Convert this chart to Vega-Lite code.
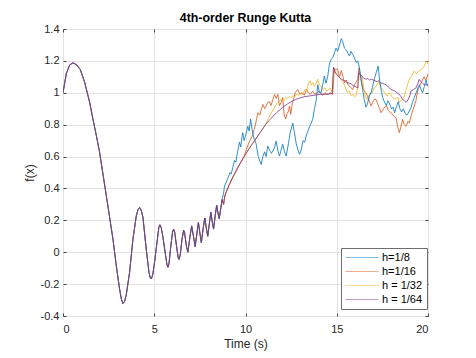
{
  "$schema": "https://vega.github.io/schema/vega-lite/v6.json",
  "width": 365,
  "height": 287,
  "autosize": {"type": "none"},
  "padding": {"left": 63, "top": 29, "right": 48, "bottom": 42},
  "background": "white",
  "title": {"text": "4th-order Runge Kutta", "font": "Liberation Sans", "fontSize": 12.4, "fontWeight": "bold", "color": "#000000", "offset": -1},
  "datasets": {
    "curves": [
      {"t":0,"a":1.0,"b":1.0,"c":1.0,"d":1.0},
      {"t":0.18,"a":1.12,"b":1.12,"c":1.12,"d":1.12},
      {"t":0.37,"a":1.175,"b":1.175,"c":1.175,"d":1.175},
      {"t":0.55,"a":1.188,"b":1.188,"c":1.188,"d":1.188},
      {"t":0.75,"a":1.175,"b":1.175,"c":1.175,"d":1.175},
      {"t":0.95,"a":1.145,"b":1.145,"c":1.145,"d":1.145},
      {"t":1.19,"a":1.065,"b":1.065,"c":1.065,"d":1.065},
      {"t":1.46,"a":0.94,"b":0.94,"c":0.94,"d":0.94},
      {"t":1.64,"a":0.835,"b":0.835,"c":0.835,"d":0.835},
      {"t":1.83,"a":0.73,"b":0.73,"c":0.73,"d":0.73},
      {"t":2.0,"a":0.63,"b":0.63,"c":0.63,"d":0.63},
      {"t":2.19,"a":0.49,"b":0.49,"c":0.49,"d":0.49},
      {"t":2.46,"a":0.29,"b":0.29,"c":0.29,"d":0.29},
      {"t":2.74,"a":0.08,"b":0.08,"c":0.08,"d":0.08},
      {"t":2.92,"a":-0.085,"b":-0.085,"c":-0.085,"d":-0.085},
      {"t":3.1,"a":-0.23,"b":-0.23,"c":-0.23,"d":-0.23},
      {"t":3.2,"a":-0.295,"b":-0.295,"c":-0.295,"d":-0.295},
      {"t":3.28,"a":-0.322,"b":-0.322,"c":-0.322,"d":-0.322},
      {"t":3.37,"a":-0.31,"b":-0.31,"c":-0.31,"d":-0.31},
      {"t":3.47,"a":-0.265,"b":-0.265,"c":-0.265,"d":-0.265},
      {"t":3.65,"a":-0.125,"b":-0.125,"c":-0.125,"d":-0.125},
      {"t":3.83,"a":0.08,"b":0.08,"c":0.08,"d":0.08},
      {"t":4.02,"a":0.23,"b":0.23,"c":0.23,"d":0.23},
      {"t":4.12,"a":0.27,"b":0.27,"c":0.27,"d":0.27},
      {"t":4.2,"a":0.28,"b":0.28,"c":0.28,"d":0.28},
      {"t":4.28,"a":0.265,"b":0.265,"c":0.265,"d":0.265},
      {"t":4.38,"a":0.22,"b":0.22,"c":0.22,"d":0.22},
      {"t":4.56,"a":0.02,"b":0.02,"c":0.02,"d":0.02},
      {"t":4.71,"a":-0.125,"b":-0.125,"c":-0.125,"d":-0.125},
      {"t":4.78,"a":-0.16,"b":-0.16,"c":-0.16,"d":-0.16},
      {"t":4.84,"a":-0.167,"b":-0.167,"c":-0.167,"d":-0.167},
      {"t":4.92,"a":-0.14,"b":-0.14,"c":-0.14,"d":-0.14},
      {"t":5.02,"a":-0.06,"b":-0.06,"c":-0.06,"d":-0.06},
      {"t":5.17,"a":0.08,"b":0.08,"c":0.08,"d":0.08},
      {"t":5.25,"a":0.155,"b":0.155,"c":0.155,"d":0.155},
      {"t":5.31,"a":0.172,"b":0.172,"c":0.172,"d":0.172},
      {"t":5.38,"a":0.155,"b":0.155,"c":0.155,"d":0.155},
      {"t":5.47,"a":0.1,"b":0.1,"c":0.1,"d":0.1},
      {"t":5.62,"a":-0.02,"b":-0.02,"c":-0.02,"d":-0.02},
      {"t":5.7,"a":-0.08,"b":-0.08,"c":-0.08,"d":-0.08},
      {"t":5.75,"a":-0.094,"b":-0.094,"c":-0.094,"d":-0.094},
      {"t":5.81,"a":-0.07,"b":-0.07,"c":-0.07,"d":-0.07},
      {"t":5.9,"a":0.03,"b":0.03,"c":0.03,"d":0.03},
      {"t":6.0,"a":0.125,"b":0.125,"c":0.125,"d":0.125},
      {"t":6.06,"a":0.145,"b":0.145,"c":0.145,"d":0.145},
      {"t":6.12,"a":0.125,"b":0.125,"c":0.125,"d":0.125},
      {"t":6.22,"a":0.04,"b":0.04,"c":0.04,"d":0.04},
      {"t":6.31,"a":-0.035,"b":-0.035,"c":-0.035,"d":-0.035},
      {"t":6.36,"a":-0.045,"b":-0.045,"c":-0.045,"d":-0.045},
      {"t":6.42,"a":-0.02,"b":-0.02,"c":-0.02,"d":-0.02},
      {"t":6.52,"a":0.08,"b":0.08,"c":0.08,"d":0.08},
      {"t":6.61,"a":0.138,"b":0.138,"c":0.138,"d":0.138},
      {"t":6.66,"a":0.125,"b":0.125,"c":0.125,"d":0.125},
      {"t":6.76,"a":0.04,"b":0.04,"c":0.04,"d":0.04},
      {"t":6.84,"a":0.0,"b":0.0,"c":0.0,"d":0.0},
      {"t":6.96,"a":0.1,"b":0.1,"c":0.1,"d":0.1},
      {"t":7.05,"a":0.165,"b":0.165,"c":0.165,"d":0.165},
      {"t":7.15,"a":0.1,"b":0.1,"c":0.1,"d":0.1},
      {"t":7.24,"a":0.035,"b":0.035,"c":0.035,"d":0.035},
      {"t":7.34,"a":0.12,"b":0.12,"c":0.12,"d":0.12},
      {"t":7.42,"a":0.186,"b":0.186,"c":0.186,"d":0.186},
      {"t":7.5,"a":0.12,"b":0.12,"c":0.12,"d":0.12},
      {"t":7.58,"a":0.06,"b":0.06,"c":0.06,"d":0.06},
      {"t":7.68,"a":0.15,"b":0.15,"c":0.15,"d":0.15},
      {"t":7.77,"a":0.215,"b":0.215,"c":0.215,"d":0.215},
      {"t":7.85,"a":0.155,"b":0.155,"c":0.155,"d":0.155},
      {"t":7.93,"a":0.1,"b":0.1,"c":0.1,"d":0.1},
      {"t":8.02,"a":0.18,"b":0.18,"c":0.18,"d":0.18},
      {"t":8.1,"a":0.25,"b":0.25,"c":0.25,"d":0.25},
      {"t":8.18,"a":0.19,"b":0.19,"c":0.19,"d":0.19},
      {"t":8.25,"a":0.145,"b":0.145,"c":0.145,"d":0.145},
      {"t":8.34,"a":0.23,"b":0.23,"c":0.23,"d":0.23},
      {"t":8.42,"a":0.295,"b":0.295,"c":0.295,"d":0.295},
      {"t":8.5,"a":0.24,"b":0.24,"c":0.24,"d":0.24},
      {"t":8.56,"a":0.21,"b":0.21,"c":0.21,"d":0.21},
      {"t":8.65,"a":0.28,"b":0.28,"c":0.28,"d":0.28},
      {"t":8.72,"a":0.33,"b":0.33,"c":0.33,"d":0.33},
      {"t":8.8,"b":0.3,"c":0.3,"d":0.3},
      {"t":8.87,"b":0.355,"c":0.355,"d":0.355},
      {"t":8.95,"b":0.38,"c":0.38,"d":0.38},
      {"t":9.1,"b":0.42,"c":0.42,"d":0.42},
      {"t":9.3,"b":0.47,"c":0.47,"d":0.47},
      {"t":9.6,"b":0.535,"c":0.535,"d":0.535},
      {"t":9.9,"b":0.595,"c":0.595,"d":0.595},
      {"t":10.2,"c":0.65,"d":0.65},
      {"t":10.5,"c":0.7,"d":0.7},
      {"t":10.8,"c":0.75,"d":0.75},
      {"t":11.1,"c":0.8,"d":0.8},
      {"t":11.4,"d":0.84},{"t":11.7,"d":0.875},{"t":12.0,"d":0.905},{"t":12.3,"d":0.93},{"t":12.6,"d":0.95},{"t":12.9,"d":0.965},{"t":13.2,"d":0.975},{"t":13.5,"d":0.98},{"t":13.8,"d":0.985},{"t":14.1,"d":0.99},{"t":14.4,"d":0.99},{"t":14.75,"d":0.995},
      {"t":14.82,"d":1.16},{"t":14.9,"d":1.13},{"t":15.0,"d":1.115},{"t":15.1,"d":1.1},{"t":15.2,"d":1.09},{"t":15.33,"d":1.08},{"t":15.45,"d":1.075},{"t":15.55,"d":1.065},{"t":15.7,"d":1.06},{"t":15.8,"d":1.055},{"t":15.9,"d":1.045},{"t":16.0,"d":1.04},{"t":16.15,"d":1.03},{"t":16.2,"d":1.125},{"t":16.3,"d":1.115},{"t":16.4,"d":1.1},{"t":16.5,"d":1.09},{"t":16.6,"d":1.085},{"t":16.7,"d":1.09},{"t":16.8,"d":1.08},{"t":16.9,"d":1.085},{"t":17.0,"d":1.08},{"t":17.1,"d":1.075},{"t":17.2,"d":1.07},{"t":17.3,"d":1.075},{"t":17.4,"d":1.06},{"t":17.5,"d":1.06},{"t":17.6,"d":1.055},{"t":17.7,"d":1.05},{"t":17.8,"d":1.04},{"t":17.9,"d":1.03},{"t":17.98,"d":1.02},{"t":18.1,"d":1.015},{"t":18.2,"d":1.01},{"t":18.3,"d":1.0},{"t":18.43,"d":0.99},{"t":18.52,"d":0.975},{"t":18.6,"d":0.96},{"t":18.7,"d":0.95},{"t":18.8,"d":0.94},{"t":18.9,"d":0.955},{"t":19.0,"d":0.98},{"t":19.07,"d":1.01},{"t":19.2,"d":1.02},{"t":19.34,"d":1.03},{"t":19.45,"d":1.06},{"t":19.52,"d":1.084},{"t":19.6,"d":1.07},{"t":19.7,"d":1.06},{"t":19.8,"d":1.05},{"t":19.89,"d":1.05},{"t":20.0,"d":1.05},
      {"t":8.8,"a":0.37},{"t":8.85,"a":0.415},{"t":8.95,"a":0.44},{"t":9.05,"a":0.47},{"t":9.15,"a":0.5},{"t":9.22,"a":0.49},{"t":9.3,"a":0.53},{"t":9.4,"a":0.575},{"t":9.47,"a":0.565},{"t":9.55,"a":0.62},{"t":9.67,"a":0.69},{"t":9.74,"a":0.66},{"t":9.8,"a":0.72},{"t":9.85,"a":0.75},{"t":9.92,"a":0.7},{"t":10.0,"a":0.73},{"t":10.13,"a":0.79},{"t":10.2,"a":0.76},{"t":10.28,"a":0.835},{"t":10.36,"a":0.77},{"t":10.45,"a":0.72},{"t":10.58,"a":0.68},{"t":10.7,"a":0.6},{"t":10.86,"a":0.55},{"t":10.95,"a":0.6},{"t":11.05,"a":0.63},{"t":11.13,"a":0.6},{"t":11.22,"a":0.666},{"t":11.32,"a":0.64},{"t":11.42,"a":0.62},{"t":11.5,"a":0.635},{"t":11.6,"a":0.66},{"t":11.68,"a":0.697},{"t":11.77,"a":0.64},{"t":11.86,"a":0.603},{"t":11.95,"a":0.64},{"t":12.04,"a":0.677},{"t":12.14,"a":0.63},{"t":12.23,"a":0.603},{"t":12.35,"a":0.68},{"t":12.45,"a":0.75},{"t":12.59,"a":0.81},{"t":12.68,"a":0.75},{"t":12.78,"a":0.68},{"t":12.88,"a":0.64},{"t":12.96,"a":0.614},{"t":13.05,"a":0.64},{"t":13.15,"a":0.7},{"t":13.25,"a":0.69},{"t":13.32,"a":0.729},{"t":13.42,"a":0.76},{"t":13.52,"a":0.79},{"t":13.6,"a":0.81},{"t":13.68,"a":0.833},{"t":13.78,"a":0.9},{"t":13.87,"a":0.95},{"t":13.96,"a":1.05},{"t":14.05,"a":1.0},{"t":14.14,"a":1.0},{"t":14.23,"a":1.05},{"t":14.32,"a":1.105},{"t":14.41,"a":1.06},{"t":14.5,"a":1.1},{"t":14.6,"a":1.18},{"t":14.69,"a":1.21},{"t":14.78,"a":1.22},{"t":14.87,"a":1.25},{"t":14.96,"a":1.28},{"t":15.05,"a":1.26},{"t":15.15,"a":1.3},{"t":15.25,"a":1.34},{"t":15.33,"a":1.32},{"t":15.42,"a":1.28},{"t":15.51,"a":1.27},{"t":15.6,"a":1.25},{"t":15.7,"a":1.23},{"t":15.78,"a":1.26},{"t":15.88,"a":1.24},{"t":15.97,"a":1.22},{"t":16.06,"a":1.19},{"t":16.15,"a":1.2},{"t":16.24,"a":1.16},{"t":16.33,"a":1.084},{"t":16.42,"a":1.02},{"t":16.5,"a":0.96},{"t":16.6,"a":0.91},{"t":16.68,"a":0.93},{"t":16.79,"a":0.98},{"t":16.88,"a":1.0},{"t":16.97,"a":1.04},{"t":17.07,"a":1.09},{"t":17.17,"a":1.13},{"t":17.27,"a":1.167},{"t":17.35,"a":1.08},{"t":17.43,"a":1.02},{"t":17.52,"a":0.97},{"t":17.62,"a":0.94},{"t":17.72,"a":0.92},{"t":17.8,"a":0.95},{"t":17.9,"a":0.93},{"t":18.0,"a":0.9},{"t":18.1,"a":0.91},{"t":18.17,"a":0.875},{"t":18.27,"a":0.91},{"t":18.37,"a":0.945},{"t":18.46,"a":0.9},{"t":18.55,"a":0.88},{"t":18.65,"a":0.9},{"t":18.75,"a":0.87},{"t":18.85,"a":0.86},{"t":18.95,"a":0.88},{"t":19.05,"a":0.9},{"t":19.15,"a":0.94},{"t":19.25,"a":0.97},{"t":19.35,"a":1.0},{"t":19.45,"a":1.03},{"t":19.53,"a":1.05},{"t":19.62,"a":1.02},{"t":19.7,"a":1.0},{"t":19.8,"a":1.04},{"t":19.89,"a":1.08},{"t":19.96,"a":1.05},{"t":20.0,"a":1.04},
      {"t":10.1,"b":0.66},{"t":10.2,"b":0.69},{"t":10.37,"b":0.73},{"t":10.5,"b":0.78},{"t":10.6,"b":0.83},{"t":10.68,"b":0.875},{"t":10.78,"b":0.86},{"t":10.88,"b":0.9},{"t":10.95,"b":0.927},{"t":11.05,"b":0.9},{"t":11.13,"b":0.917},{"t":11.22,"b":0.94},{"t":11.3,"b":0.945},{"t":11.4,"b":0.92},{"t":11.5,"b":0.96},{"t":11.59,"b":0.99},{"t":11.68,"b":0.965},{"t":11.77,"b":0.99},{"t":11.86,"b":0.92},{"t":11.95,"b":0.94},{"t":12.04,"b":0.97},{"t":12.12,"b":0.86},{"t":12.2,"b":0.835},{"t":12.28,"b":0.87},{"t":12.36,"b":0.885},{"t":12.41,"b":0.917},{"t":12.48,"b":0.865},{"t":12.56,"b":0.93},{"t":12.64,"b":0.96},{"t":12.72,"b":1.0},{"t":12.86,"b":1.02},{"t":12.98,"b":0.99},{"t":13.1,"b":1.0},{"t":13.22,"b":0.985},{"t":13.35,"b":1.02},{"t":13.45,"b":1.0},{"t":13.55,"b":0.99},{"t":13.68,"b":1.01},{"t":13.8,"b":0.99},{"t":13.92,"b":1.0},{"t":14.05,"b":1.01},{"t":14.2,"b":0.985},{"t":14.35,"b":1.0},{"t":14.5,"b":0.99},{"t":14.65,"b":1.0},{"t":14.78,"b":0.99},{"t":14.85,"b":1.12},{"t":14.92,"b":1.15},{"t":15.05,"b":1.147},{"t":15.15,"b":1.1},{"t":15.25,"b":1.14},{"t":15.34,"b":1.1},{"t":15.42,"b":1.063},{"t":15.52,"b":1.08},{"t":15.62,"b":1.05},{"t":15.72,"b":1.04},{"t":15.87,"b":1.02},{"t":15.97,"b":1.05},{"t":16.08,"b":1.07},{"t":16.15,"b":1.084},{"t":16.22,"b":1.157},{"t":16.32,"b":1.09},{"t":16.42,"b":1.03},{"t":16.52,"b":1.01},{"t":16.6,"b":1.0},{"t":16.69,"b":0.98},{"t":16.78,"b":0.95},{"t":16.88,"b":0.917},{"t":16.97,"b":0.94},{"t":17.07,"b":0.96},{"t":17.15,"b":0.958},{"t":17.25,"b":0.93},{"t":17.35,"b":0.9},{"t":17.43,"b":0.875},{"t":17.52,"b":0.89},{"t":17.62,"b":0.91},{"t":17.72,"b":0.92},{"t":17.82,"b":0.89},{"t":17.9,"b":0.88},{"t":17.98,"b":0.875},{"t":18.08,"b":0.86},{"t":18.17,"b":0.85},{"t":18.25,"b":0.844},{"t":18.33,"b":0.79},{"t":18.43,"b":0.75},{"t":18.52,"b":0.79},{"t":18.61,"b":0.833},{"t":18.7,"b":0.8},{"t":18.8,"b":0.79},{"t":18.9,"b":0.82},{"t":18.98,"b":0.81},{"t":19.08,"b":0.86},{"t":19.17,"b":0.89},{"t":19.25,"b":0.917},{"t":19.34,"b":0.95},{"t":19.43,"b":1.01},{"t":19.52,"b":1.04},{"t":19.62,"b":1.063},{"t":19.7,"b":1.08},{"t":19.78,"b":1.1},{"t":19.89,"b":1.08},{"t":19.95,"b":1.1},{"t":20.0,"b":1.12},
      {"t":11.25,"c":0.84},{"t":11.4,"c":0.87},{"t":11.55,"c":0.9},{"t":11.7,"c":0.93},{"t":11.86,"c":0.95},{"t":12.0,"c":0.96},{"t":12.1,"c":0.95},{"t":12.2,"c":0.97},{"t":12.3,"c":0.965},{"t":12.4,"c":0.975},{"t":12.5,"c":0.97},{"t":12.6,"c":0.98},{"t":12.7,"c":0.975},{"t":12.77,"c":0.99},{"t":12.9,"c":0.985},{"t":13.05,"c":1.0},{"t":13.15,"c":0.99},{"t":13.25,"c":1.02},{"t":13.35,"c":1.01},{"t":13.45,"c":1.06},{"t":13.52,"c":1.075},{"t":13.6,"c":1.05},{"t":13.68,"c":1.063},{"t":13.78,"c":1.04},{"t":13.88,"c":1.06},{"t":13.96,"c":1.084},{"t":14.05,"c":1.05},{"t":14.15,"c":1.04},{"t":14.23,"c":1.02},{"t":14.35,"c":1.03},{"t":14.45,"c":1.01},{"t":14.55,"c":1.02},{"t":14.65,"c":1.03},{"t":14.76,"c":1.0},{"t":14.84,"c":1.157},{"t":14.95,"c":1.12},{"t":15.05,"c":1.11},{"t":15.14,"c":1.105},{"t":15.22,"c":1.08},{"t":15.3,"c":1.07},{"t":15.42,"c":1.05},{"t":15.5,"c":1.02},{"t":15.6,"c":1.0},{"t":15.7,"c":1.01},{"t":15.79,"c":0.98},{"t":15.9,"c":0.99},{"t":15.98,"c":0.975},{"t":16.06,"c":0.985},{"t":16.15,"c":1.03},{"t":16.24,"c":1.12},{"t":16.32,"c":1.11},{"t":16.39,"c":1.105},{"t":16.48,"c":1.03},{"t":16.57,"c":0.98},{"t":16.66,"c":0.958},{"t":16.75,"c":0.98},{"t":16.85,"c":1.0},{"t":16.95,"c":1.0},{"t":17.05,"c":1.03},{"t":17.15,"c":1.04},{"t":17.25,"c":1.06},{"t":17.32,"c":1.063},{"t":17.42,"c":1.03},{"t":17.52,"c":1.02},{"t":17.62,"c":1.0},{"t":17.7,"c":0.99},{"t":17.76,"c":0.98},{"t":17.86,"c":1.0},{"t":17.96,"c":0.99},{"t":18.05,"c":0.97},{"t":18.15,"c":0.96},{"t":18.25,"c":0.965},{"t":18.35,"c":0.97},{"t":18.43,"c":0.94},{"t":18.52,"c":0.95},{"t":18.6,"c":0.96},{"t":18.7,"c":0.98},{"t":18.8,"c":1.02},{"t":18.9,"c":1.06},{"t":18.98,"c":1.084},{"t":19.08,"c":1.1},{"t":19.17,"c":1.12},{"t":19.25,"c":1.136},{"t":19.35,"c":1.12},{"t":19.45,"c":1.13},{"t":19.55,"c":1.136},{"t":19.65,"c":1.15},{"t":19.75,"c":1.16},{"t":19.85,"c":1.18},{"t":19.93,"c":1.2},{"t":20.0,"c":1.18}
    ]
  },
  "data": {"name": "curves"},
  "layer": [
    {
      "transform": [
        {"fold": ["b", "c", "a", "d"], "as": ["s", "y"]},
        {"filter": "isValid(datum.y)"}
      ],
      "mark": {"type": "line", "clip": true},
      "encoding": {
        "x": {"field": "t", "type": "quantitative", "scale": {"domain": [0, 20], "nice": false, "zero": false},
              "axis": {"orient": "bottom", "values": [0, 5, 10, 15, 20], "title": "Time (s)", "grid": true}},
        "y": {"field": "y", "type": "quantitative", "scale": {"domain": [-0.4, 1.4], "nice": false, "zero": false},
              "axis": {"orient": "left", "values": [-0.4, -0.2, 0, 0.2, 0.4, 0.6, 0.8, 1, 1.2, 1.4], "title": "f(x)", "grid": true,
                       "labelExpr": "toString(round(datum.value*10)/10)"}},
        "strokeWidth": {"field": "s", "type": "nominal", "scale": {"domain": ["a", "b", "c", "d"], "range": [0.8, 0.8, 0.8, 1.2]}, "legend": null},
        "color": {"field": "s", "type": "nominal",
                  "scale": {"domain": ["a", "b", "c", "d"], "range": ["#0072BD", "#D95319", "#EDB120", "#7E2F8E"]},
                  "legend": {"title": null, "orient": "none", "legendX": 278, "legendY": 219,
                             "symbolType": "stroke", "symbolSize": 1089, "symbolStrokeWidth": 1.5, "symbolOpacity": 0.6, "clipHeight": 11,
                             "labelExpr": "{'a':'h=1/8','b':'h=1/16','c':'h = 1/32','d':'h = 1/64'}[datum.label]",
                             "labelFont": "Liberation Sans", "labelFontSize": 11, "labelColor": "#000000", "labelOffset": 3,
                             "fillColor": "white", "strokeColor": "#6e6e6e", "padding": 4, "rowPadding": 2, "cornerRadius": 0}}
      }
    },
    {
      "mark": {"type": "point", "opacity": 0},
      "encoding": {
        "x": {"field": "t", "type": "quantitative",
              "axis": {"orient": "top", "values": [0, 5, 10, 15, 20], "labels": false, "title": null, "grid": false}},
        "y": {"field": "d", "type": "quantitative",
              "axis": {"orient": "right", "values": [-0.4, -0.2, 0, 0.2, 0.4, 0.6, 0.8, 1, 1.2, 1.4], "labels": false, "title": null, "grid": false}}
      }
    }
  ],
  "resolve": {"axis": {"x": "independent", "y": "independent"}},
  "config": {
    "view": {"stroke": "#5a5a5a", "strokeWidth": 1},
    "axis": {
      "domain": false,
      "labelFont": "Liberation Sans", "titleFont": "Liberation Sans",
      "labelFontSize": 11, "titleFontSize": 12, "titleFontWeight": "normal",
      "labelColor": "#262626", "titleColor": "#262626",
      "gridColor": "#e2e2e2", "gridWidth": 1,
      "tickColor": "#444444", "tickSize": -3, "tickWidth": 1
    },
    "axisX": {"labelPadding": 10, "titlePadding": 4},
    "axisY": {"labelPadding": 7, "titlePadding": 4}
  }
}
